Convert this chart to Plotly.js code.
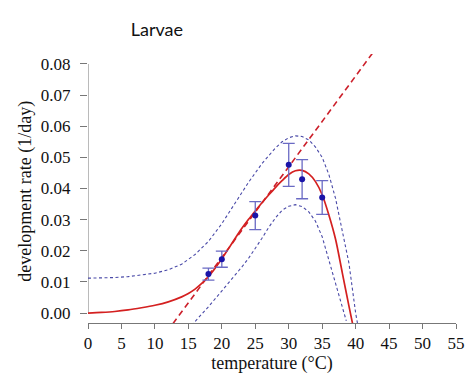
<!DOCTYPE html>
<html>
<head>
<meta charset="utf-8">
<script src="https://cdn.plot.ly/plotly-3.0.1.min.js"></script>
<style>html,body{margin:0;padding:0;background:#fff;}#chart{width:474px;height:391px;}</style>
</head>
<body>
<div id="chart"></div>
<script>
// Observed development rates (mean ± error)
var obsTemp = [18, 20, 25, 30, 32, 35];
var obsRate = [0.0125, 0.0173, 0.0313, 0.0476, 0.0430, 0.0371];
var obsErr  = [0.0019, 0.0026, 0.0045, 0.0069, 0.0063, 0.0054];

// Fitted non-linear model curve
var fitTemp = [0, 2, 4, 6, 8, 10, 12, 14, 15, 16, 17, 18, 19, 20, 21, 22, 23, 24, 25, 26, 27, 28, 29, 30, 31, 32, 33, 34, 35, 36, 37, 38, 39, 39.6];
var fitRate = [0.0000, 0.0002, 0.0005, 0.0010, 0.0017, 0.0025, 0.0036, 0.0052, 0.0063, 0.0077, 0.0095, 0.0117, 0.0144, 0.0174, 0.0207, 0.0240, 0.0272, 0.0301, 0.0328, 0.0354, 0.0379, 0.0403, 0.0425, 0.0445, 0.0457, 0.0458, 0.0447, 0.0422, 0.0380, 0.0315, 0.0237, 0.0130, 0.0022, -0.0040];

// Upper confidence band
var upTemp = [0, 2, 4, 6, 8, 10, 12, 14, 16, 18, 20, 22, 24, 26, 28, 29, 30, 31, 32, 33, 34, 35, 36, 37, 38, 39, 40, 40.5];
var upRate = [0.0112, 0.0112, 0.0114, 0.0117, 0.0122, 0.0128, 0.0139, 0.0157, 0.0188, 0.0230, 0.0287, 0.0352, 0.0420, 0.0480, 0.0530, 0.0550, 0.0563, 0.0569, 0.0567, 0.0556, 0.0533, 0.0500, 0.0445, 0.0368, 0.0266, 0.0160, 0.0000, -0.0060];

// Lower confidence band
var loTemp = [15.5, 16, 18, 20, 21, 22, 23, 24, 25, 26, 27, 28, 29, 30, 31, 32, 33, 34, 35, 36, 37, 38, 38.6];
var loRate = [-0.0040, -0.0027, 0.0020, 0.0070, 0.0096, 0.0122, 0.0148, 0.0176, 0.0207, 0.0240, 0.0275, 0.0305, 0.0330, 0.0343, 0.0348, 0.0342, 0.0325, 0.0295, 0.0245, 0.0170, 0.0098, 0.0027, -0.0025];

// Linear model
var linTemp = [12.7, 42.5];
var linRate = [-0.0034, 0.0834];

var xTicks = [0, 5, 10, 15, 20, 25, 30, 35, 40, 45, 50, 55];
var yTicks = [0.00, 0.01, 0.02, 0.03, 0.04, 0.05, 0.06, 0.07, 0.08];
var yTickText = ['0.00', '0.01', '0.02', '0.03', '0.04', '0.05', '0.06', '0.07', '0.08'];

var serif = "Liberation Serif";

var traces = [
  {x: upTemp, y: upRate, mode: 'lines', line: {color: '#4a4aa8', width: 1.1, dash: '3px,2.5px'}, hoverinfo: 'skip'},
  {x: loTemp, y: loRate, mode: 'lines', line: {color: '#4a4aa8', width: 1.1, dash: '3px,2.5px'}, hoverinfo: 'skip'},
  {x: linTemp, y: linRate, mode: 'lines', line: {color: '#cc1f2a', width: 1.6, dash: '6px,4px'}, hoverinfo: 'skip'},
  {x: fitTemp, y: fitRate, mode: 'lines', line: {color: '#d42020', width: 1.7, shape: 'spline', smoothing: 0.8}, hoverinfo: 'skip'},
  {x: obsTemp, y: obsRate, mode: 'markers', marker: {color: '#1a14a8', size: 6},
   error_y: {type: 'data', array: obsErr, visible: true, color: '#6a6ac4', thickness: 1.3, width: 6}}
];

var layout = {
  width: 474, height: 391,
  margin: {l: 88, r: 18, t: 54, b: 68},
  paper_bgcolor: '#ffffff', plot_bgcolor: '#ffffff',
  font: {family: serif, size: 17, color: '#111'},
  showlegend: false,
  title: {text: 'Larvae', font: {family: 'Lato', size: 18, color: '#111'},
          xref: 'container', yref: 'container', x: 0.331, y: 0.923, xanchor: 'center', yanchor: 'middle'},
  xaxis: {
    range: [0, 55], tickmode: 'array', tickvals: xTicks, ticktext: xTicks.map(String),
    showgrid: false, zeroline: false, showline: true, linecolor: '#777', linewidth: 1,
    ticks: 'outside', ticklen: 5, tickcolor: '#777',
    tickfont: {family: serif, size: 17, color: '#111'},
    title: {text: 'temperature (°C)', font: {family: serif, size: 18, color: '#111'}, standoff: 3}
  },
  yaxis: {
    range: [-0.0032, 0.0832], tickmode: 'array', tickvals: yTicks, ticktext: yTickText,
    showgrid: false, zeroline: false, showline: false,
    ticks: 'outside', ticklen: 7, tickcolor: '#777', ticklabelstandoff: 6,
    tickfont: {family: serif, size: 17, color: '#111'}
  },
  annotations: [
    {text: 'development rate (1/day)', xref: 'paper', yref: 'paper', x: -0.17, y: 0.49,
     xanchor: 'center', yanchor: 'middle', textangle: -90, showarrow: false,
     font: {family: serif, size: 18, color: '#111'}}
  ],
  shapes: [
    {type: 'line', xref: 'x', yref: 'y', x0: 0, x1: 0, y0: yTicks[0], y1: yTicks[yTicks.length - 1],
     line: {color: '#777', width: 1}, layer: 'below'}
  ]
};

Plotly.newPlot('chart', traces, layout, {displayModeBar: false, staticPlot: true});
</script>
</body>
</html>
